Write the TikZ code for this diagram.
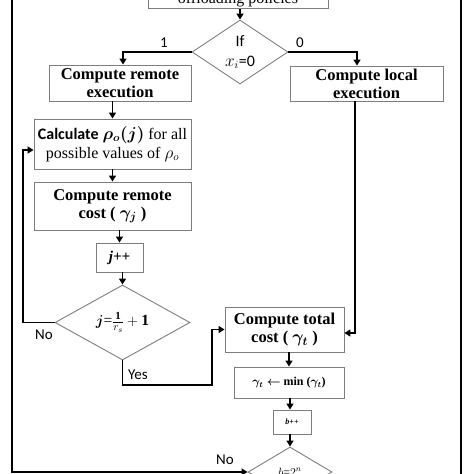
\documentclass[tikz,border=0pt]{standalone}
\usepackage{fontspec}
\usepackage{amsmath,bm}
\setmainfont{Liberation Serif}
\newfontfamily\labfont{Carlito}
\usetikzlibrary{shapes.geometric,arrows.meta}
\definecolor{boxgray}{RGB}{125,125,125}
\begin{document}
\begin{tikzpicture}[x=1pt,y=-1pt,
  box/.style={draw=boxgray, line width=0.9pt, rectangle, align=center, inner sep=0pt,
    font=\fontsize{16.5}{18}\selectfont\bfseries},
  dia/.style={draw=boxgray, line width=0.9pt, diamond, inner sep=0pt, align=center},
  flow/.style={line width=1.8pt, -{Triangle[length=6pt,width=7pt]}},
  plainline/.style={line width=1.8pt},
  lab/.style={font=\labfont\fontsize{15}{17}\selectfont, inner sep=0pt}
]
\useasboundingbox (0,0) rectangle (474,474);
\clip (0,0) rectangle (474,474);

% boxes
\node[box, minimum width=180pt, minimum height=18pt, font=\fontsize{16}{18}\selectfont] (top) at (238,-0.5) {offloading policies};
\node[dia, minimum width=96pt, minimum height=64pt, aspect=1.5, font=\labfont\fontsize{16}{20}\selectfont] (d1) at (240,52) {If\\$x_i$=0};
\node[box, minimum width=142pt, minimum height=36pt] (remote) at (120,83) {Compute remote\\execution};
\node[box, minimum width=153pt, minimum height=35pt] (local) at (366.5,83.5) {Compute local\\execution};
\node[box, minimum width=157pt, minimum height=50pt, font=\fontsize{16}{19}\selectfont] (calc) at (112.5,144)
  {{\labfont\bfseries Calculate} $\bm{\rho_o(j)}$ for all\\possible values of $\rho_o$};
\node[box, minimum width=157pt, minimum height=48pt] (rcost) at (112.5,206) {Compute remote\\cost ( $\bm{\gamma_j}$ )};
\node[box, minimum width=47pt, minimum height=29pt, font=\fontsize{15}{16}\selectfont\bfseries\itshape] (jpp) at (119.5,257.5) {j++};
\node[dia, minimum width=135pt, minimum height=75pt, aspect=1.8, font=\fontsize{15.5}{18}\selectfont] (d2) at (122.5,322.5)
  {$\bm{j}$=$\frac{\mathbf{1}}{r_s}+\mathbf{1}$};
\node[box, minimum width=119pt, minimum height=45pt] (total) at (284.5,329.5) {Compute total\\cost ( $\bm{\gamma_t}$ )};
\node[box, minimum width=110pt, minimum height=31pt, font=\fontsize{12}{14}\selectfont\bfseries] (minb) at (289,382.5)
  {$\bm{\gamma_t \leftarrow}$ min ($\bm{\gamma_t}$)};
\node[box, minimum width=38pt, minimum height=24pt, font=\fontsize{8}{10}\selectfont\bfseries\itshape] (bpp) at (292,422) {b++};
\node[dia, minimum width=84pt, minimum height=50pt, aspect=1.7, font=\fontsize{12}{14}\selectfont] (d3) at (290,472) {$b$=$2^n$};

% labels
\node[lab] (l1) at (164,43) {1};
\node[lab] (l0) at (300,43) {0};
\node[lab] (lno1) at (44,335) {No};
\node[lab] (lyes) at (138,375) {Yes};
\node[lab] (lno2) at (225,460) {No};

% coordinates
\coordinate (c1) at (123,65);
\coordinate (c0) at (357,65);
\coordinate (noL) at (23,322.5);
\coordinate (noT) at (23,150);
\coordinate (yB) at (122.5,385);
\coordinate (yR) at (212,385);
\coordinate (lc) at (355,333);
\coordinate (oTL) at (12,-10);
\coordinate (oTR) at (461,-10);
\coordinate (oBR) at (461,490);

% connectors
\draw[flow] (top.south -| d1.north) -- (d1.north);
\draw[flow] (d1.west) -| (c1 |- remote.north);
\draw[flow] (d1.east) -| (c0 |- local.north);
\draw[flow] (remote.south -| calc.north) -- (calc.north);
\draw[flow] (calc.south) -- (rcost.north);
\draw[flow] (rcost.south -| jpp.north) -- (jpp.north);
\draw[flow] (jpp.south -| d2.north) -- (d2.north);
\draw[flow] (d2.west) -- (noL) -- (noT) -- (noT -| calc.west);
\draw[flow] (d2.south) -- (yB) -- (yR) |- (total.west);
\draw[flow] (local.south -| lc) -- (lc) -- (lc -| total.east);
\draw[flow] (total.south -| minb.north) -- (minb.north);
\draw[flow] (minb.south -| d3.north) -- (d3.north |- bpp.north);
\draw[flow] (bpp.south -| d3.north) -- (d3.north);
\draw[flow] (oTL) |- (d3.west);
\draw[plainline] (oTR) -- (oBR);
\end{tikzpicture}
\end{document}
